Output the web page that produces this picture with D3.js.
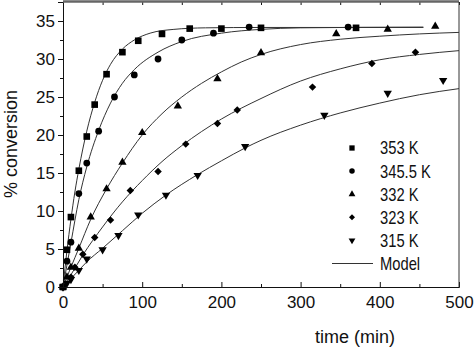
<!DOCTYPE html>
<html><head><meta charset="utf-8">
<script src="https://cdn.jsdelivr.net/npm/d3@7"></script>
<style>
body{margin:0;background:#fff}
text{font-family:"Liberation Sans",Arial,Helvetica,sans-serif;fill:#111}
</style>
</head><body><svg id="c" width="474" height="348"></svg>
<script>
// ---- data ----
const seriesNames = ["353 K","345.5 K","332 K","323 K","315 K"];
const t353 = [0,5,10,20,30,40,55,75,95,125,160,200,250,370];
const c353 = [0,4.9,9.2,15.3,19.8,24.0,28.0,30.9,32.4,33.3,34.0,34.0,34.1,34.1];
const t345 = [0,5,10,20,30,45,65,90,120,150,190,235,360];
const c345 = [0,3.4,5.9,12.3,16.3,20.5,25.0,27.9,30.0,32.5,33.4,34.2,34.2];
const t332 = [0,5,10,20,35,55,75,100,145,195,250,345,410,470];
const c332 = [0,1.3,2.6,5.1,9.2,12.9,16.4,20.3,23.8,27.4,30.8,33.3,33.9,34.3];
const t323 = [0,10,15,25,40,60,85,120,155,195,220,315,390,445];
const c323 = [0,1.3,2.6,4.3,6.5,8.8,12.7,15.2,18.8,21.5,23.3,26.3,29.4,30.9];
const t315 = [0,5,10,20,30,50,70,95,130,170,230,330,410,480];
const c315 = [0,0.5,1.0,2.2,3.7,4.9,6.8,9.5,12.1,14.7,18.5,22.6,25.5,27.2];

// model curves
const mt353 = [0,5,10,15,20,30,40,50,60,75,90,110,140,180,250,350,455];
const mc353 = [0,4.8,8.9,12.5,15.5,20.5,24.3,27.2,29.3,31.3,32.5,33.4,33.9,34.1,34.15,34.15,34.15];
const mt345 = [0,5,10,20,30,45,60,75,90,120,150,200,250,300,455];
const mc345 = [0,2.9,5.8,11.5,15.8,20.6,24.2,26.8,28.6,30.9,32.3,33.4,33.9,34.1,34.2];
const mt332 = [0,10,20,35,55,75,100,125,150,175,200,225,250,300,350,400,450,500];
const mc332 = [0,2.6,5.1,8.9,12.9,16.3,20.0,22.8,25.0,26.8,28.3,29.6,30.6,31.9,32.6,33.0,33.3,33.5];
const mt323 = [0,10,25,50,75,100,125,150,200,250,300,350,400,450,500];
const mc323 = [0,1.6,4.2,7.9,11.2,14.0,16.5,18.6,22.1,24.8,27.1,28.7,29.9,30.6,31.1];
const mt315 = [0,10,20,30,50,75,100,130,170,200,230,250,300,350,400,450,500];
const mc315 = [0,1.1,2.2,3.3,5.1,7.4,9.7,12.1,14.8,16.6,18.3,19.3,21.3,22.9,24.2,25.3,26.1];

const xTicks = [0,100,200,300,400,500];
const xMinor = [50,150,250,350,450];
const yTicks = [0,5,10,15,20,25,30,35];
const yMinor = [2.5,7.5,12.5,17.5,22.5,27.5,32.5];
const xLabel = "time (min)";
const yLabel = "% conversion";
const modelLabel = "Model";

// ---- chart ----
const svg = d3.select("#c");
const L=63, R=459, T=2, B=287;
const x = d3.scaleLinear().domain([0,500]).range([L,R]);
const y = d3.scaleLinear().domain([0,37.5]).range([B,T]);

const pts = [[t353,c353],[t345,c345],[t332,c332],[t323,c323],[t315,c315]];
const mods = [[mt353,mc353],[mt345,mc345],[mt332,mc332],[mt323,mc323],[mt315,mc315]];
const shapes = [
  {type:d3.symbolSquare, size:44, rot:0},
  {type:d3.symbolCircle, size:36, rot:0},
  {type:d3.symbolTriangle, size:30, rot:0},
  {type:d3.symbolSquare, size:28, rot:45},
  {type:d3.symbolTriangle, size:30, rot:180}
];

// model lines
const line = d3.line().x(d=>x(d[0])).y(d=>y(d[1])).curve(d3.curveMonotoneX);
mods.forEach(([ts,cs])=>{
  svg.append("path").datum(ts.map((t,i)=>[t,cs[i]]))
    .attr("d",line).attr("fill","none").attr("stroke","#333").attr("stroke-width",1);
});

// points
pts.forEach(([ts,cs],k)=>{
  const s = shapes[k];
  const sym = d3.symbol().type(s.type).size(s.size);
  svg.append("g").selectAll("path").data(ts.map((t,i)=>[t,cs[i]])).join("path")
    .attr("d",sym)
    .attr("transform",d=>`translate(${x(d[0])},${y(d[1])}) rotate(${s.rot})`)
    .attr("fill","#000");
});

// axes
const yAx = svg.append("g").attr("transform",`translate(${L},0)`)
  .call(d3.axisLeft(y).tickValues(yTicks).tickSize(5).tickPadding(3));
svg.append("g").attr("transform",`translate(${L},0)`)
  .call(d3.axisLeft(y).tickValues(yMinor).tickSize(3).tickFormat(""))
  .select(".domain").remove();
const xAx = svg.append("g").attr("transform",`translate(0,${B})`)
  .call(d3.axisBottom(x).tickValues(xTicks).tickSize(-5).tickPadding(9));
svg.append("g").attr("transform",`translate(0,${B})`)
  .call(d3.axisBottom(x).tickValues(xMinor).tickSize(-3).tickFormat(""))
  .select(".domain").remove();
// top mirror ticks
svg.append("g").attr("transform",`translate(0,${T})`)
  .call(d3.axisTop(x).tickValues(xTicks.concat(xMinor)).tickSize(-3).tickFormat(""))
  .select(".domain").remove();

[yAx,xAx].forEach(g=>{
  g.selectAll("text").attr("font-size",17).attr("font-family","Liberation Sans, Arial, sans-serif").attr("fill","#111");
  g.select(".domain").attr("stroke","#111");
});
svg.selectAll(".tick line").attr("stroke","#111");

// frame top & right
svg.append("line").attr("x1",L).attr("x2",R).attr("y1",T-0.5).attr("y2",T-0.5)
  .attr("stroke","#666").attr("stroke-width",2.5);
svg.append("line").attr("x1",R).attr("x2",R).attr("y1",T).attr("y2",B)
  .attr("stroke","#333").attr("stroke-width",1);

// axis titles
svg.append("text").attr("x",355).attr("y",343).attr("text-anchor","middle")
  .attr("font-size",18).text(xLabel);
svg.append("text").attr("transform","translate(17,144) rotate(-90)")
  .attr("text-anchor","middle").attr("font-size",18).text(yLabel);

// legend
const legShapes = [
  {type:d3.symbolSquare, size:28, rot:0},
  {type:d3.symbolCircle, size:24, rot:0},
  {type:d3.symbolTriangle, size:20, rot:0},
  {type:d3.symbolSquare, size:18, rot:45},
  {type:d3.symbolTriangle, size:20, rot:180}
];
const ly0 = 148, ldy = 23.1;
seriesNames.forEach((n,k)=>{
  const s = legShapes[k];
  svg.append("path").attr("d",d3.symbol().type(s.type).size(s.size))
    .attr("transform",`translate(352,${ly0+k*ldy}) rotate(${s.rot})`).attr("fill","#000");
  svg.append("text").attr("x",380).attr("y",ly0+k*ldy).attr("dy","0.36em")
    .attr("font-size",18).attr("transform-origin",`380 ${ly0+k*ldy}`)
    .attr("transform","scale(0.82,1)").text(n);
});
const my = ly0+5*ldy;
svg.append("line").attr("x1",332).attr("x2",373).attr("y1",my).attr("y2",my)
  .attr("stroke","#333").attr("stroke-width",1);
svg.append("text").attr("x",380).attr("y",my).attr("dy","0.36em")
  .attr("font-size",18).attr("transform-origin",`380 ${my}`)
  .attr("transform","scale(0.82,1)").text(modelLabel);
</script>
</body></html>
